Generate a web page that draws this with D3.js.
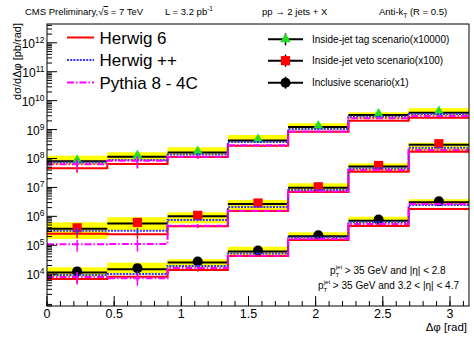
<!DOCTYPE html>
<html><head><meta charset="utf-8">
<script src="https://cdn.jsdelivr.net/npm/d3@7"></script>
<style>body{margin:0;background:#fff}svg{display:block;font-family:"Liberation Sans",Arial,sans-serif}</style>
</head><body><svg id="c" width="474" height="340"></svg>
<script>
// ---- data ----
const binEdges = [0, 0.4488, 0.8976, 1.3464, 1.7952, 2.2440, 2.6928, 3.1416];
const xTicks = [0, 0.5, 1, 1.5, 2, 2.5, 3];
const xTickLabels = ["0", "0.5", "1", "1.5", "2", "2.5", "3"];
const yDecades = [4, 5, 6, 7, 8, 9, 10, 11, 12];

// Inside-jet tag scenario (x10000)
const tagData      = [8.0e7, 1.16e8, 1.61e8, 4.2e8, 1.23e9, 3.19e9, 3.84e9];
const tagBandLo    = [6.0e7, 8.4e7, 1.32e8, 3.5e8, 1.0e9, 2.3e9, 3.0e9];
const tagBandHi    = [1.25e8, 1.64e8, 2.44e8, 6.5e8, 1.65e9, 3.96e9, 5.5e9];
const tagHerwig6   = [4.6e7, 6.5e7, 1.13e8, 2.77e8, 8.45e8, 2.03e9, 2.58e9];
const tagHerwigpp  = [7.2e7, 8.9e7, 1.38e8, 3.72e8, 1.05e9, 2.79e9, 3.46e9];
const tagPythia    = [6.3e7, 8.4e7, 1.16e8, 2.85e8, 8.6e8, 2.46e9, 2.95e9];

// Inside-jet veto scenario (x100)
const vetoData     = [3.7e5, 5.7e5, 1.0e6, 2.67e6, 9.7e6, 5.3e7, 3.0e8];
const vetoBandLo   = [1.65e5, 3.37e5, 5.75e5, 1.66e6, 6.6e6, 3.5e7, 1.72e8];
const vetoBandHi   = [6.2e5, 9.3e5, 1.38e6, 3.67e6, 1.39e7, 6.8e7, 3.5e8];
const vetoHerwig6  = [2.5e5, 2.4e5, 4.5e5, 1.53e6, 6.95e6, 3.5e7, 1.72e8];
const vetoHerwigpp = [3.2e5, 3.2e5, 7.5e5, 2.1e6, 8.1e6, 4.6e7, 2.37e8];
const vetoPythia   = [1.08e5, 1.1e5, 4.7e5, 1.55e6, 7.2e6, 4.0e7, 1.97e8];

// Inclusive scenario (x1)
const incData      = [1.15e4, 1.49e4, 2.54e4, 6.1e4, 2.04e5, 7.1e5, 3.06e6];
const incBandLo    = [8.2e3, 1.07e4, 1.73e4, 4.6e4, 1.74e5, 5.75e5, 2.6e6];
const incBandHi    = [1.73e4, 2.5e4, 3.27e4, 8.9e4, 2.8e5, 9.7e5, 3.9e6];
const incHerwig6   = [6.8e3, 8.2e3, 1.4e4, 4.26e4, 1.52e5, 4.6e5, 1.8e6];
const incHerwigpp  = [9.4e3, 1.01e4, 1.92e4, 5.2e4, 1.86e5, 6.2e5, 2.47e6];
const incPythia    = [8.0e3, 7.2e3, 1.64e4, 4.3e4, 1.65e5, 5.4e5, 2.67e6];

// MC relative statistical errors per bin
const herwig6Err  = [0.30, 0.30, 0.12, 0.05, 0.03, 0.02, 0.02];
const herwigppErr = [0.25, 0.25, 0.10, 0.05, 0.03, 0.02, 0.02];
const pythiaErr   = [0.45, 0.45, 0.15, 0.06, 0.03, 0.02, 0.02];

const scenarios = [
  {name:"Inside-jet tag scenario(x10000)", data:tagData, lo:tagBandLo, hi:tagBandHi, mc:[tagHerwig6, tagHerwigpp, tagPythia], marker:"tri"},
  {name:"Inside-jet veto scenario(x100)", data:vetoData, lo:vetoBandLo, hi:vetoBandHi, mc:[vetoHerwig6, vetoHerwigpp, vetoPythia], marker:"sq"},
  {name:"Inclusive scenario(x1)", data:incData, lo:incBandLo, hi:incBandHi, mc:[incHerwig6, incHerwigpp, incPythia], marker:"circ"}
];
const generators = [
  {name:"Herwig 6", color:"#ff0000", dash:null, err:herwig6Err},
  {name:"Herwig ++", color:"#3535ff", dash:"2,1.2", err:herwigppErr},
  {name:"Pythia 8 - 4C", color:"#ff00ff", dash:"7,2,1.5,2", err:pythiaErr}
];

// ---- layout ----
const L = 47, R = 469, T = 24, B = 306;
const svg = d3.select("#c");
const x = d3.scaleLinear().domain([0, Math.PI]).range([L, R]);
const y = d3.scaleLog().domain([Math.pow(10, 2.9), Math.pow(10, 12.65)]).range([B, T]);
const font = '"Liberation Sans",Arial,sans-serif';

const plot = svg.append("g");
const nb = binEdges.length - 1;
const centre = i => (binEdges[i] + binEdges[i+1]) / 2;

// bands
scenarios.forEach(s => {
  plot.selectAll(null).data(d3.range(nb)).enter().append("rect")
    .attr("x", i => x(binEdges[i])).attr("width", i => x(binEdges[i+1]) - x(binEdges[i]))
    .attr("y", i => y(s.hi[i])).attr("height", i => y(s.lo[i]) - y(s.hi[i]))
    .attr("fill", "#ffff00");
});
// data horizontal bars
scenarios.forEach(s => {
  plot.selectAll(null).data(d3.range(nb)).enter().append("line")
    .attr("x1", i => x(binEdges[i])).attr("x2", i => x(binEdges[i+1]))
    .attr("y1", i => y(s.data[i])).attr("y2", i => y(s.data[i]))
    .attr("stroke", "#000").attr("stroke-width", 2);
});
// markers
function marker(g, type, cx, cy) {
  if (type === "tri") g.append("path").attr("d", d3.symbol(d3.symbolTriangle, 48)()).attr("transform", `translate(${cx},${cy})`).attr("fill", "#22dd22");
  else if (type === "sq") g.append("path").attr("d", d3.symbol(d3.symbolSquare, 85)()).attr("transform", `translate(${cx},${cy})`).attr("fill", "#ff0000");
  else g.append("path").attr("d", d3.symbol(d3.symbolCircle, 80)()).attr("transform", `translate(${cx},${cy})`).attr("fill", "#000");
}
scenarios.forEach(s => {
  d3.range(nb).forEach(i => marker(plot, s.marker, x(centre(i)), y(s.data[i]) - 1));
});
// MC histograms
const stepLine = d3.line().x(d => x(d[0])).y(d => y(d[1])).curve(d3.curveStepAfter);
scenarios.forEach(s => {
  generators.forEach((g, gi) => {
    const vals = s.mc[gi];
    const pts = binEdges.map((e, i) => [e, vals[Math.min(i, nb - 1)]]);
    plot.append("path").attr("d", stepLine(pts)).attr("fill", "none")
      .attr("stroke", g.color).attr("stroke-width", 2)
      .attr("stroke-dasharray", g.dash);
    plot.selectAll(null).data(d3.range(nb)).enter().append("line")
      .attr("x1", i => x(centre(i))).attr("x2", i => x(centre(i)))
      .attr("y1", i => y(vals[i] * (1 + g.err[i]))).attr("y2", i => y(vals[i] * (1 - g.err[i])))
      .attr("stroke", g.color).attr("stroke-width", 1.5);
  });
});

// frame
svg.append("rect").attr("x", L).attr("y", T).attr("width", R - L).attr("height", B - T)
  .attr("fill", "none").attr("stroke", "#000").attr("stroke-width", 1);

// x ticks
const xMinor = d3.range(0, 3.15, 0.1);
svg.selectAll(null).data(xMinor).enter().append("line")
  .attr("x1", d => x(d)).attr("x2", d => x(d)).attr("y1", B).attr("y2", B - 5)
  .attr("stroke", "#000");
svg.selectAll(null).data(xTicks).enter().append("line")
  .attr("x1", d => x(d)).attr("x2", d => x(d)).attr("y1", B).attr("y2", B - 10)
  .attr("stroke", "#000");
svg.selectAll(null).data(xTicks).enter().append("text")
  .attr("x", d => x(d)).attr("y", 318).attr("text-anchor", "middle")
  .attr("font-size", 12.5).attr("fill", "#000").text((d, i) => xTickLabels[i]);
svg.append("text").attr("x", 467).attr("y", 331).attr("text-anchor", "end")
  .attr("font-size", 11.5).text("Δφ [rad]");

// y ticks
const yMinor = [];
for (let e = 2; e <= 12; e++) for (let m = 2; m <= 9; m++) {
  const v = m * Math.pow(10, e);
  if (v > y.domain()[0] && v < y.domain()[1]) yMinor.push(v);
}
svg.selectAll(null).data(yMinor).enter().append("line")
  .attr("x1", L).attr("x2", L + 5).attr("y1", d => y(d)).attr("y2", d => y(d)).attr("stroke", "#000");
svg.selectAll(null).data(yDecades).enter().append("line")
  .attr("x1", L).attr("x2", L + 10).attr("y1", d => y(Math.pow(10, d))).attr("y2", d => y(Math.pow(10, d))).attr("stroke", "#000");
const yl = svg.selectAll(null).data(yDecades).enter().append("text")
  .attr("x", 44.5).attr("y", d => y(Math.pow(10, d)) + 5).attr("text-anchor", "end")
  .attr("font-size", 12);
yl.append("tspan").text("10");
yl.append("tspan").attr("dy", -5).attr("font-size", 8.5).text(d => d);

svg.append("text").attr("transform", "translate(21,23) rotate(-90)").attr("text-anchor", "end")
  .attr("font-size", 11).text("dσ/dΔφ [pb/rad]");

// header
const hdr = svg.append("g").attr("font-size", 9.5);
const h1 = hdr.append("text").attr("x", 25).attr("y", 15);
h1.append("tspan").text("CMS Preliminary,√");
h1.append("tspan").attr("text-decoration", "overline").text("s");
h1.append("tspan").text(" = 7 TeV");
const h2 = hdr.append("text").attr("x", 165).attr("y", 15);
h2.append("tspan").text("L = 3.2 pb");
h2.append("tspan").attr("dy", -4).attr("font-size", 6.5).text("-1");
hdr.append("text").attr("x", 262).attr("y", 15).text("pp → 2 jets + X");
const h4 = hdr.append("text").attr("x", 379).attr("y", 15);
h4.append("tspan").text("Anti-k");
h4.append("tspan").attr("dy", 2.5).attr("font-size", 6.5).text("T");
h4.append("tspan").attr("dy", -2.5).text(" (R = 0.5)");

// left legend
const legRows = [37.5, 60, 82.5];
generators.forEach((g, i) => {
  svg.append("line").attr("x1", 67).attr("x2", 94).attr("y1", legRows[i]).attr("y2", legRows[i])
    .attr("stroke", g.color).attr("stroke-width", 2).attr("stroke-dasharray", g.dash);
  svg.append("text").attr("x", 99.5).attr("y", legRows[i] + 6).attr("font-size", 17).text(g.name);
});
// right legend
const legRows2 = [39.3, 60.7, 82.7];
scenarios.forEach((s, i) => {
  const cy = legRows2[i];
  svg.append("line").attr("x1", 268).attr("x2", 303).attr("y1", cy).attr("y2", cy).attr("stroke", "#000").attr("stroke-width", 2);
  svg.append("line").attr("x1", 285.5).attr("x2", 285.5).attr("y1", cy - 6).attr("y2", cy + 6).attr("stroke", "#000").attr("stroke-width", 1.5);
  marker(svg, s.marker, 285.5, cy);
  svg.append("text").attr("x", 312).attr("y", cy + 3.5).attr("font-size", 10).text(s.name);
});

// cut annotations
function ptText(xp, yp, rest) {
  const t = svg.append("text").attr("x", xp).attr("y", yp).attr("font-size", 10);
  t.append("tspan").text("p");
  t.append("tspan").attr("dy", 3).attr("font-size", 6).text("T");
  t.append("tspan").attr("dx", -3.5).attr("dy", -8).attr("font-size", 6).text("jet");
  t.append("tspan").attr("dy", 5).text(rest);
}
ptText(330, 273.5, " > 35 GeV and |η| < 2.8");
ptText(318, 289, " > 35 GeV and 3.2 < |η| < 4.7");
</script></body></html>
